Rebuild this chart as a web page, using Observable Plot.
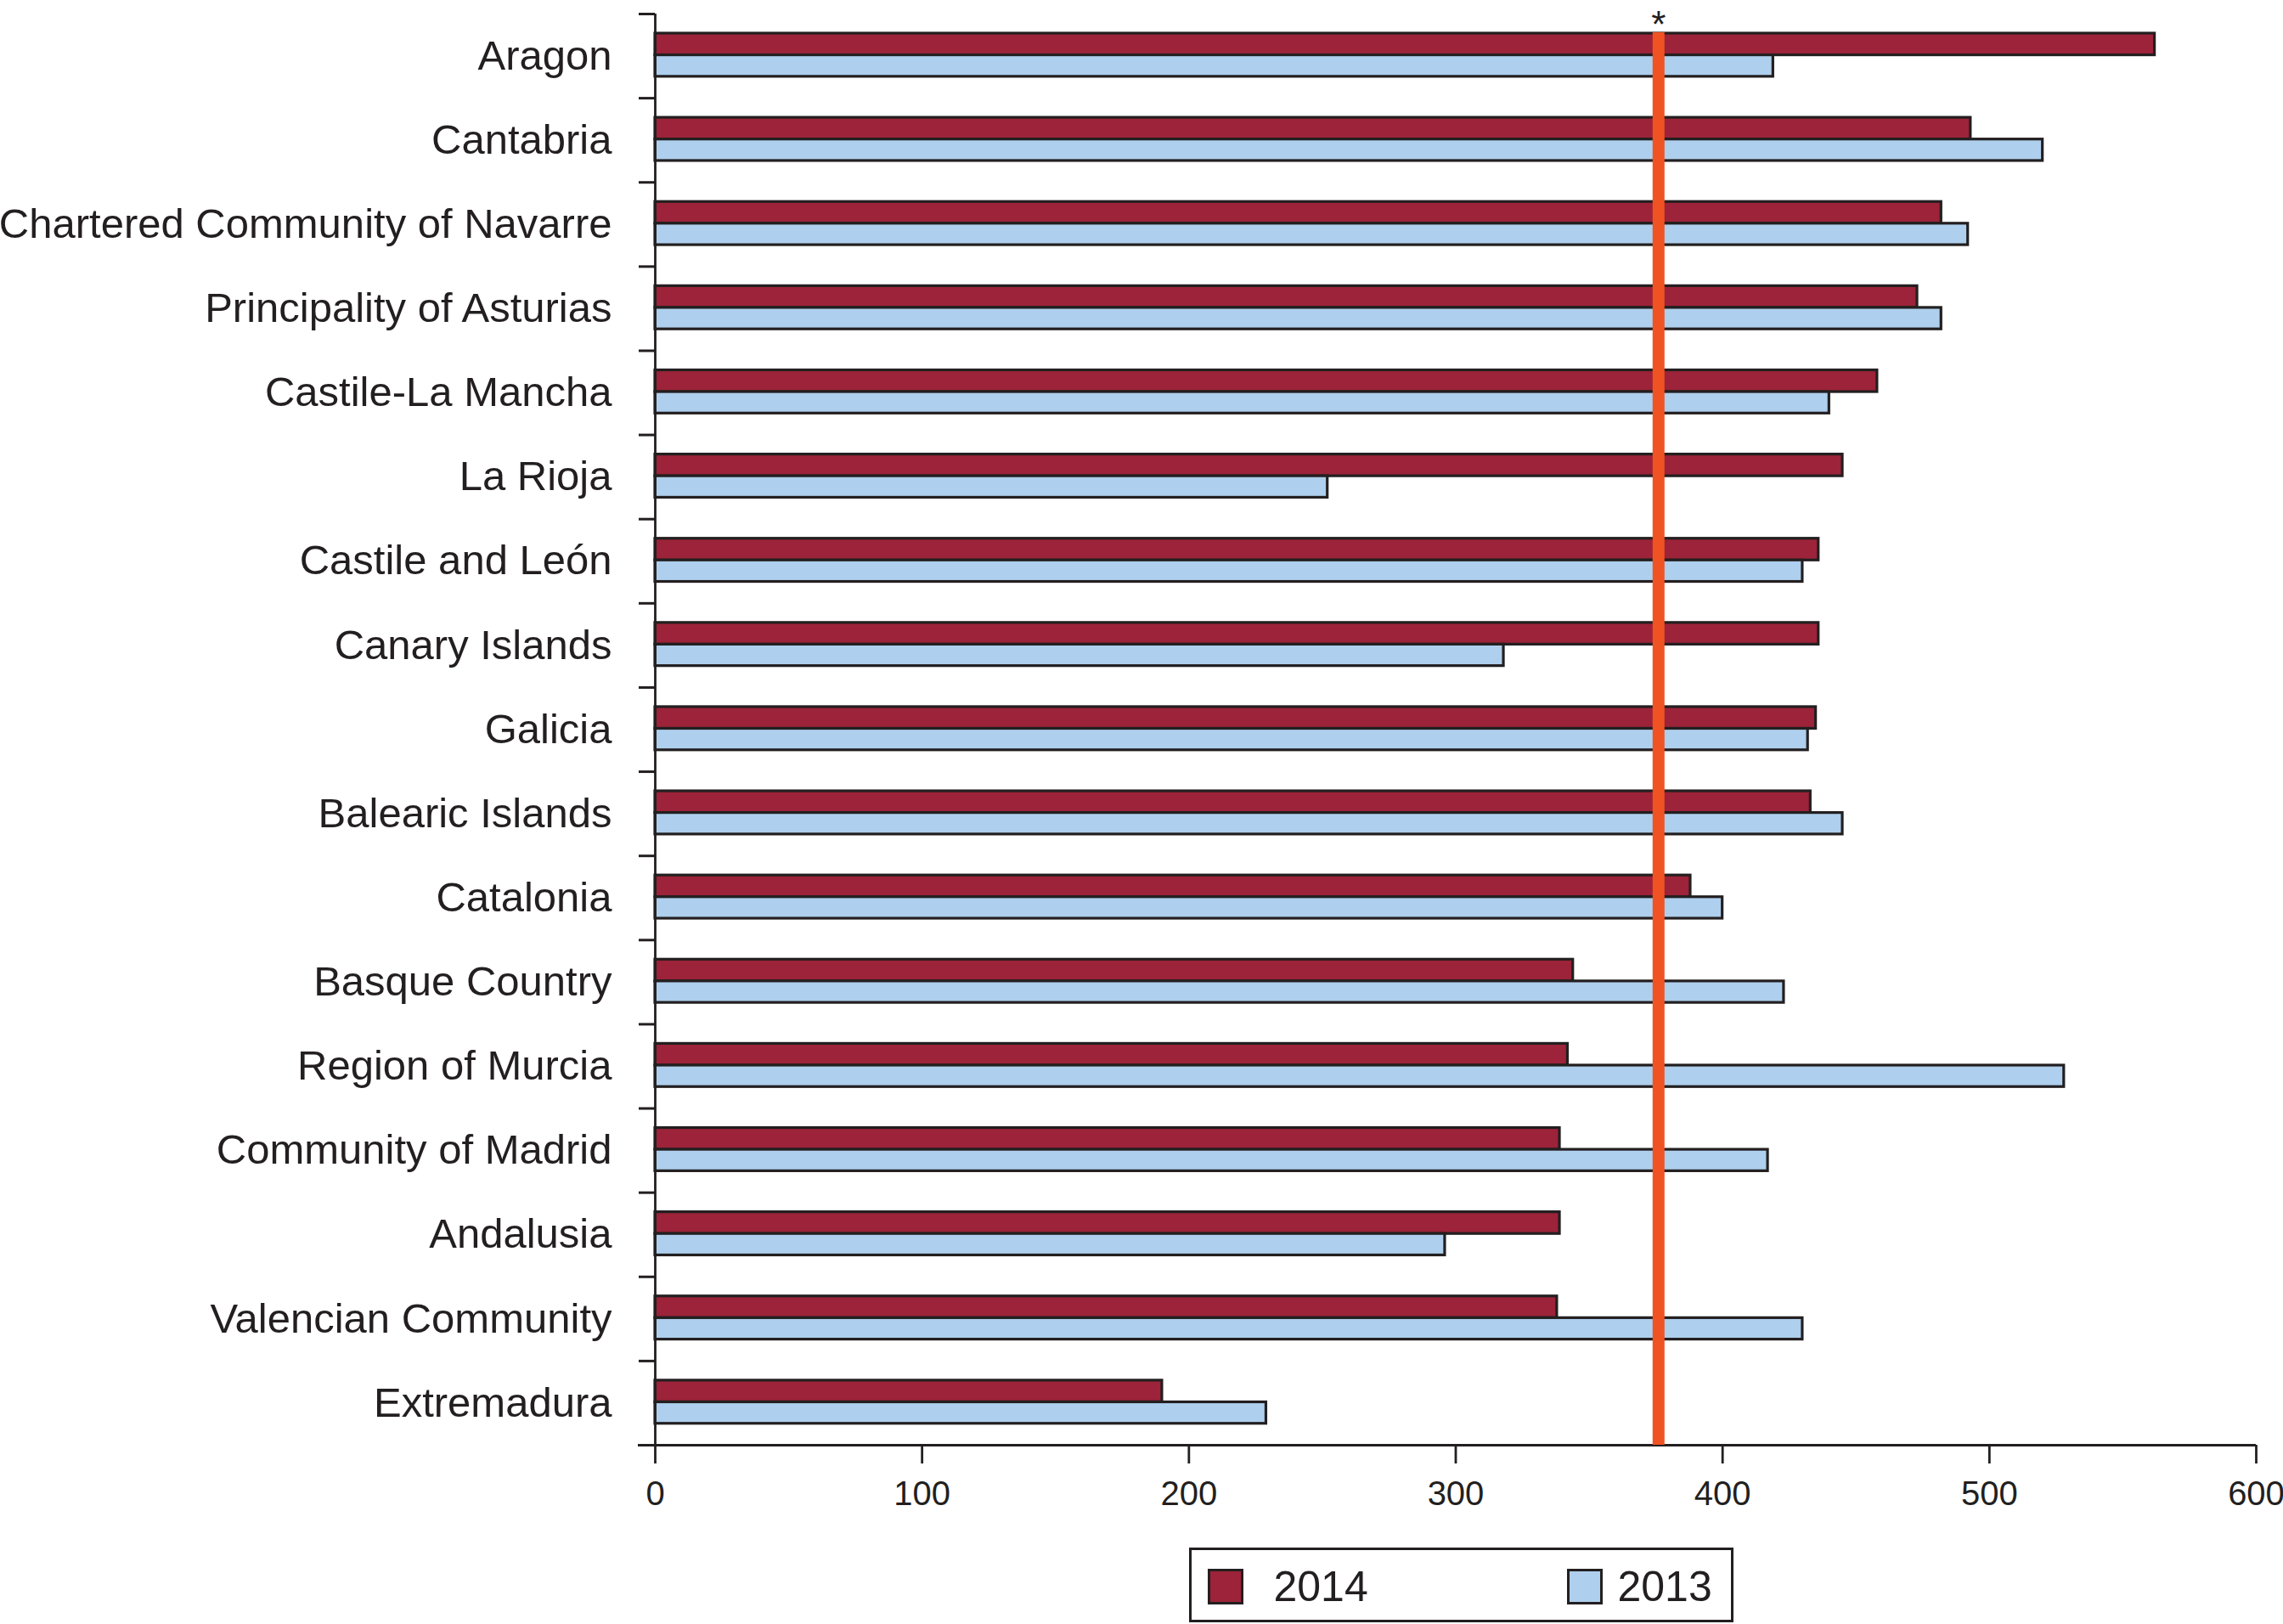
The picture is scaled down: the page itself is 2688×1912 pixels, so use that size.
<!DOCTYPE html>
<html>
<head>
<meta charset="utf-8">
<script src="https://cdn.jsdelivr.net/npm/d3@7"></script>
<script src="https://cdn.jsdelivr.net/npm/@observablehq/plot@0.6"></script>
<style>
  html, body { margin: 0; padding: 0; background: #ffffff; }
  #wrap { position: relative; width: 2688px; height: 1912px; font-family: "Liberation Sans", Arial, sans-serif; color: #231f20; }
  #legend { position: absolute; left: 1400px; top: 1822px; width: 641px; height: 88px;
            box-sizing: border-box; border: 3.5px solid #231f20; background: #fff; }
  #legend .sw { position: absolute; width: 42px; height: 42px; box-sizing: border-box; border: 3px solid #231f20; }
  #legend .lb { position: absolute; font-size: 50px; line-height: 42px; white-space: nowrap; }
</style>
</head>
<body>
<div id="wrap">
  <div id="chart"></div>
  <div id="legend"></div>
</div>
<script>
// Regions, ordered top to bottom
const regions = [
  "Aragon", "Cantabria", "Chartered Community of Navarre", "Principality of Asturias",
  "Castile-La Mancha", "La Rioja", "Castile and León", "Canary Islands", "Galicia",
  "Balearic Islands", "Catalonia", "Basque Country", "Region of Murcia",
  "Community of Madrid", "Andalusia", "Valencian Community", "Extremadura"
];
const values2014 = [562, 493, 482, 473, 458, 445, 436, 436, 435, 433, 388, 344, 342, 339, 339, 338, 190];
const values2013 = [419, 520, 492, 482, 440, 252, 430, 318, 432, 445, 400, 423, 528, 417, 296, 430, 229];
const years = ["2014", "2013"];
const colors = ["#9c2339", "#aecfed"];
const referenceValue = 376;
const xTicks = [0, 100, 200, 300, 400, 500, 600];

const ink = "#231f20";
const rows = regions.flatMap((region, i) => [
  {region, i, year: "2014", value: values2014[i]},
  {region, i, year: "2013", value: values2013[i]}
]);

// Each region occupies one unit on y; the two bars sit in the middle of it
const barBand = {"2014": [0.232, 0.49], "2013": [0.49, 0.745]};

const chart = Plot.plot({
  width: 2688,
  height: 1800,
  marginLeft: 771,
  marginRight: 32,
  marginTop: 16,
  marginBottom: 99,
  style: {fontFamily: "'Liberation Sans', Arial, sans-serif", color: ink, background: "#ffffff", overflow: "visible"},
  x: {domain: [0, 600], label: null},
  y: {domain: [regions.length, 0], label: null},
  color: {domain: years, range: colors},
  marks: [
    Plot.rectX(rows, {
      x1: 0,
      x2: "value",
      y1: d => d.i + barBand[d.year][0],
      y2: d => d.i + barBand[d.year][1],
      fill: "year",
      stroke: ink,
      strokeWidth: 3.2
    }),
    // category boundary ticks
    Plot.axisY({ticks: d3.range(regions.length + 1), tickSize: 19, tickFormat: () => "", strokeWidth: 3, stroke: ink, label: null}),
    // region labels at band centres
    Plot.axisY({
      ticks: regions.map((_, i) => i + 0.5),
      tickFormat: v => regions[Math.floor(v)],
      tickSize: 0,
      tickPadding: 51,
      fontSize: 49,
      fill: ink,
      label: null
    }),
    Plot.ruleX([0], {stroke: ink, strokeWidth: 2.8}),
    Plot.axisX({ticks: xTicks, tickSize: 22, tickPadding: 20, fontSize: 40, strokeWidth: 2.8, stroke: ink, fill: ink, label: null}),
    Plot.ruleY([regions.length], {stroke: ink, strokeWidth: 2.8, insetLeft: -20}),
    // reference line
    Plot.ruleX([referenceValue], {stroke: "#f05323", strokeWidth: 14, insetTop: 22}),
    Plot.text([referenceValue], {x: d => d, frameAnchor: "top", text: () => "*", fontSize: 44, dy: -4, fill: ink})
  ]
});
document.getElementById("chart").appendChild(chart);

// Legend below the chart
const legend = document.getElementById("legend");
const legendItems = [
  {label: years[0], color: colors[0], sw: 18.5, tx: 96.5},
  {label: years[1], color: colors[1], sw: 441.5, tx: 501.5}
];
for (const item of legendItems) {
  const sw = document.createElement("div");
  sw.className = "sw";
  sw.style.left = item.sw + "px";
  sw.style.top = "21.5px";
  sw.style.background = item.color;
  legend.appendChild(sw);
  const lb = document.createElement("div");
  lb.className = "lb";
  lb.style.left = item.tx + "px";
  lb.style.top = "21.5px";
  lb.textContent = item.label;
  legend.appendChild(lb);
}
</script>
</body>
</html>
